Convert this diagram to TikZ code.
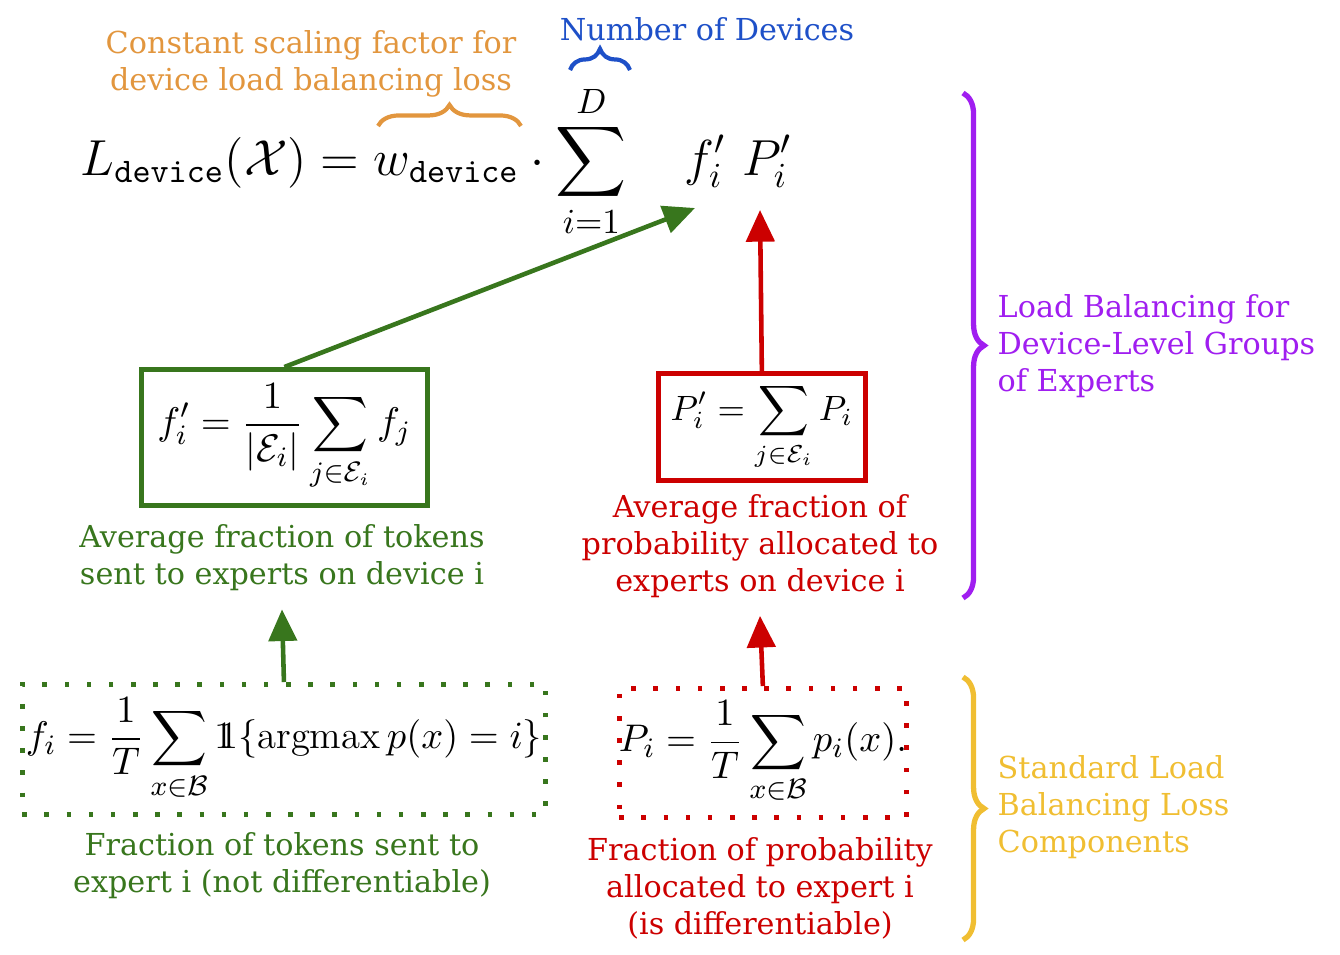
\documentclass[tikz,border=0pt]{standalone}
\usepackage{amsmath,amssymb}
\usepackage{fontspec}
\newfontfamily\lab{DejaVu Serif}
\usetikzlibrary{decorations.pathreplacing,arrows.meta}
\newcommand\myone{\mathrm{1}\mkern-6.5mu\mathrm{1}}
\definecolor{cor}{RGB}{226,150,62}
\definecolor{cbl}{RGB}{30,80,200}
\definecolor{cpu}{RGB}{160,30,240}
\definecolor{cye}{RGB}{240,190,50}
\definecolor{cgr}{RGB}{56,118,29}
\definecolor{cre}{RGB}{204,0,0}
\tikzset{
 lbl/.style={font=\lab\fontsize{8.6}{10.5}\selectfont, align=center, inner sep=0},
 lbll/.style={lbl, align=left, anchor=west},
 br/.style={decorate, decoration={brace, amplitude=6pt}, line width=1.2pt},
 arr/.style={-{Triangle[length=9pt,width=8pt]}, line width=1.3pt},
 box/.style={draw, line width=1.3pt},
 dbox/.style={draw, line width=1.3pt, dotted, dash pattern=on 1.3pt off 5pt},
 mth/.style={font=\fontsize{11}{13}\selectfont, inner sep=0}
}
\begin{document}
\begin{tikzpicture}[x=0.01cm,y=-0.01cm]
\useasboundingbox (0,0) rectangle (1340,954);
% top labels
\node[lbl, text=cor] (ol) at (311,64) {Constant scaling factor for\\device load balancing loss};
\node[lbl, text=cbl] (bl) at (707,29) {Number of Devices};
\draw[br, cor] (378,126) -- (521,126);
\draw[br, cbl] (570,70) -- (630,70);
% equation
\node[inner sep=0, anchor=base west, font=\fontsize{14}{17}\selectfont] (eq) at (80,175)
 {$L_{\mathtt{device}}(\mathcal{X}) = w_{\mathtt{device}}\cdot \displaystyle\sum_{i=1}^{D}\quad f'_i\ P'_i$};
\coordinate (ga) at (695,208);
\coordinate (ra) at (760,210);
% green box
\node[box, cgr, minimum width=2.86cm, minimum height=1.36cm, anchor=north west] (gb) at (139,367) {};
\node[mth] at (gb.center) {$\displaystyle f'_i=\frac{1}{|\mathcal{E}_i|}\sum_{j\in\mathcal{E}_i} f_j$};
\node[lbl, text=cgr] (gl) at (282,558) {Average fraction of tokens\\sent to experts on device i};
% red box
\node[box, cre, minimum width=2.07cm, minimum height=1.07cm, anchor=north west] (rb) at (656,371) {};
\node[mth, font=\fontsize{10}{12}\selectfont] at (rb.center) {$\displaystyle P'_i=\sum_{j\in\mathcal{E}_i} P_i$};
\node[lbl, text=cre] (rl) at (760,546) {Average fraction of\\probability allocated to\\experts on device i};
% arrows to equation
\draw[arr, cgr] (gb.north) -- (ga);
\draw[arr, cre] (rb.north) -- (ra);
% dotted boxes
\node[dbox, cgr, minimum width=5.23cm, minimum height=1.30cm, anchor=north west] (gd) at (20,682) {};
\node[mth] at (gd.center) {$\displaystyle f_i=\frac{1}{T}\sum_{x\in\mathcal{B}}\myone\{\operatorname{argmax} p(x)=i\}$};
\node[dbox, cre, minimum width=2.87cm, minimum height=1.29cm, anchor=north west] (rd) at (617,686) {};
\node[mth] at (rd.center) {$\displaystyle P_i=\frac{1}{T}\sum_{x\in\mathcal{B}}p_i(x).$};
\draw[arr, cgr] (gd.north) -- ([yshift=-5pt]gl.south);
\draw[arr, cre] (rd.north) -- ([yshift=-5pt]rl.south);
\node[lbl, text=cgr] (gdl) at (282,866) {Fraction of tokens sent to\\expert i (not differentiable)};
\node[lbl, text=cre] (rdl) at (760,888) {Fraction of probability\\allocated to expert i\\(is differentiable)};
% right braces
\draw[br, cpu, line width=1.5pt] (963,93) -- (963,598);
\node[lbll, text=cpu] (pl) at (997,346) {Load Balancing for\\Device-Level Groups\\of Experts};
\draw[br, cye, line width=1.5pt] (963,677) -- (963,940);
\node[lbll, text=cye] (yl) at (997,807) {Standard Load\\Balancing Loss\\Components};
\end{tikzpicture}
\end{document}
